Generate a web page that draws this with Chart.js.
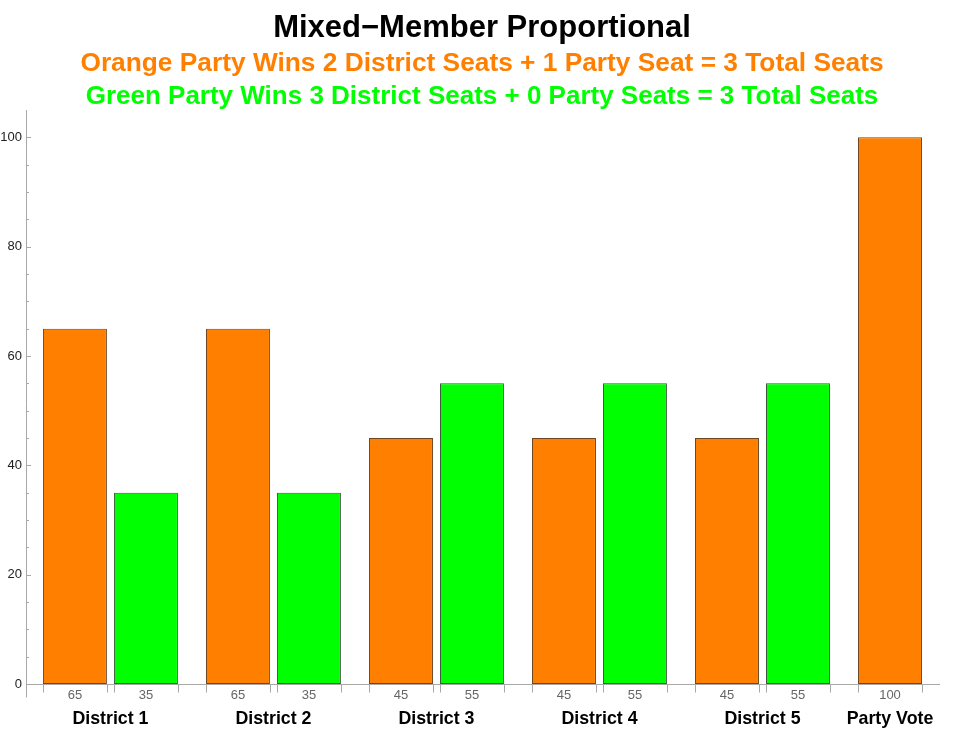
<!DOCTYPE html>
<html>
<head>
<meta charset="utf-8">
<script src="https://cdn.jsdelivr.net/npm/chart.js@4.4.1/dist/chart.umd.min.js"></script>
<style>
  html, body { margin: 0; padding: 0; background: #fff; overflow: hidden; }
</style>
</head>
<body>
<canvas id="myChart" width="960" height="743"></canvas>
<script>
// data
const categories = ['District 1', 'District 2', 'District 3', 'District 4', 'District 5', 'Party Vote'];
const orangeVotes = [65, 65, 45, 45, 45, 100];
const greenVotes = [35, 35, 55, 55, 55];
const yTicks = [0, 20, 40, 60, 80, 100];
const titleLines = [
  'Mixed\u2212Member Proportional',
  'Orange Party Wins 2 District Seats + 1 Party Seat = 3 Total Seats',
  'Green Party Wins 3 District Seats + 0 Party Seats = 3 Total Seats'
];

const ORANGE = '#ff8000';
const GREEN = '#00ff00';
const FONT = '"Liberation Sans", Arial, sans-serif';

// titles, axes, bar ticks and labels under the bars
const decor = {
  id: 'decor',
  afterDraw(chart) {
    const ctx = chart.ctx;
    const area = chart.chartArea;
    const yScale = chart.scales.y;
    const y0 = Math.round(yScale.getPixelForValue(0)) + 0.5;
    const left = Math.round(area.left) + 0.5;
    ctx.save();

    const tStyle = [
      { color: '#000', size: 31, base: 37 },
      { color: ORANGE, size: 26.3, base: 71 },
      { color: GREEN, size: 26, base: 104 }
    ];
    ctx.textAlign = 'center';
    ctx.textBaseline = 'alphabetic';
    titleLines.forEach((t, i) => {
      ctx.font = 'bold ' + tStyle[i].size + 'px ' + FONT;
      ctx.fillStyle = tStyle[i].color;
      ctx.fillText(t, 482, tStyle[i].base);
    });

    ctx.strokeStyle = '#a8a8a8';
    ctx.lineWidth = 1;
    ctx.beginPath();
    ctx.moveTo(left, area.top);
    ctx.lineTo(left, y0 + 13);
    ctx.moveTo(area.left, y0);
    ctx.lineTo(area.right, y0);
    for (let v = 0; v <= yTicks[yTicks.length - 1]; v += 5) {
      const py = Math.round(yScale.getPixelForValue(v)) + 0.5;
      const len = yTicks.includes(v) ? 4.5 : 2.5;
      ctx.moveTo(left, py);
      ctx.lineTo(left + len, py);
    }

    const centers = categories.map(() => []);
    const labels = [];
    chart.data.datasets.forEach((ds, di) => {
      const meta = chart.getDatasetMeta(di);
      meta.data.forEach((bar, i) => {
        const half = bar.width / 2;
        [bar.x - half, bar.x + half].forEach(px => {
          const sx = Math.round(px) + 0.5;
          ctx.moveTo(sx, y0);
          ctx.lineTo(sx, y0 + 8);
        });
        labels.push([String(ds.data[i].y), bar.x]);
        centers[ds.data[i].x].push(bar.x);
      });
    });
    ctx.stroke();

    ctx.textAlign = 'center';
    ctx.textBaseline = 'middle';
    ctx.font = '13px ' + FONT;
    ctx.fillStyle = '#666';
    labels.forEach(([t, px]) => ctx.fillText(t, px, y0 + 11));

    ctx.textBaseline = 'alphabetic';
    ctx.font = 'bold 17.8px ' + FONT;
    ctx.fillStyle = '#000';
    categories.forEach((c, i) => {
      if (!centers[i].length) return;
      const cx = centers[i].reduce((a, b) => a + b, 0) / centers[i].length;
      ctx.fillText(c, cx, y0 + 39);
    });
    ctx.restore();
  }
};

const ctx = document.getElementById('myChart').getContext('2d');
new Chart(ctx, {
  type: 'bar',
  data: {
    datasets: [{
      label: 'Orange Party',
      data: orangeVotes.map((v, i) => ({ x: i, y: v })),
      backgroundColor: ORANGE,
      borderColor: '#6e4622',
      borderWidth: 1,
      borderSkipped: false
    }, {
      label: 'Green Party',
      data: greenVotes.map((v, i) => ({ x: i, y: v })),
      backgroundColor: GREEN,
      borderColor: '#3a5a3a',
      borderWidth: 1,
      borderSkipped: false
    }]
  },
  options: {
    responsive: false,
    animation: false,
    categoryPercentage: 0.871,
    barPercentage: 0.901,
    layout: { padding: { top: 110, right: 20, left: 0, bottom: 0 } },
    plugins: {
      legend: { display: false },
      tooltip: { enabled: false }
    },
    scales: {
      x: {
        type: 'linear',
        bounds: 'data',
        offset: false,
        min: -0.518,
        max: 5.089,
        grid: { display: false, drawTicks: false, offset: false },
        border: { display: false },
        ticks: { display: false },
        afterBuildTicks: s => { s.ticks = categories.map((c, i) => ({ value: i })); },
        afterFit: s => { s.height = 59; }
      },
      y: {
        min: 0,
        max: 105,
        grid: { display: false, drawTicks: false },
        border: { display: false },
        ticks: { padding: 4, color: '#222', font: { family: FONT, size: 13 } },
        afterBuildTicks: s => { s.ticks = yTicks.map(v => ({ value: v })); },
        afterFit: s => { s.width = 26; }
      }
    }
  },
  plugins: [decor]
});
</script>
</body>
</html>
